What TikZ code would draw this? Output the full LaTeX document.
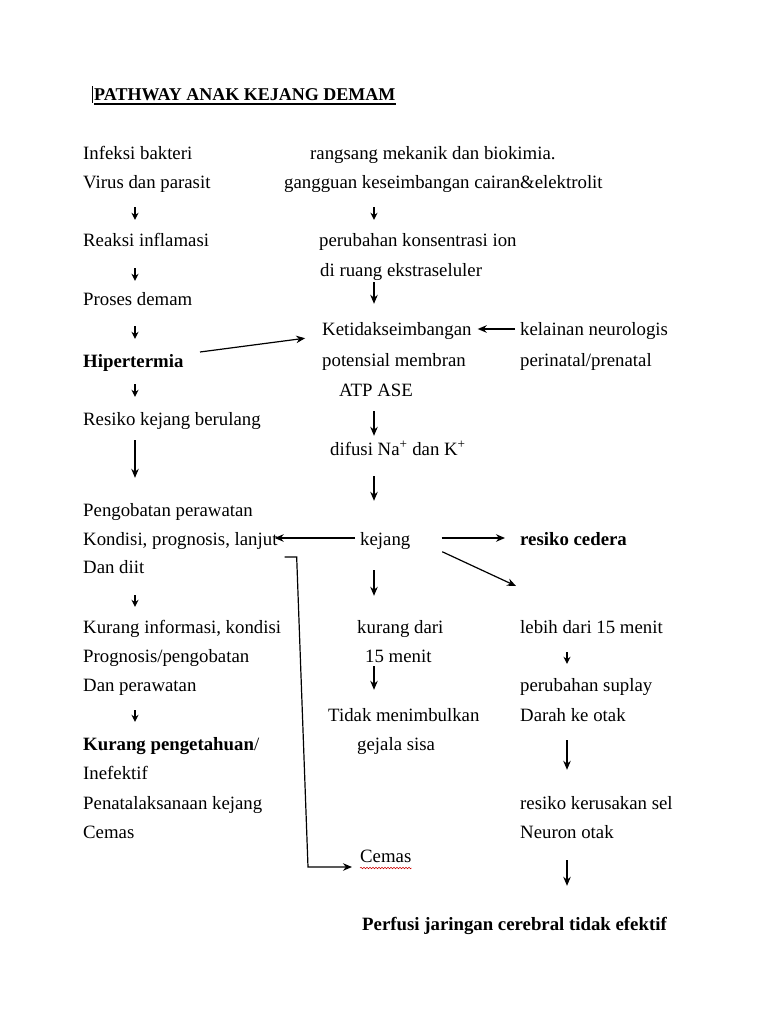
\documentclass[tikz,border=0pt]{standalone}
\usepackage{fontspec}
\setmainfont{Liberation Serif}
\usetikzlibrary{arrows.meta,decorations.pathmorphing}
\begin{document}
\begin{tikzpicture}[x=1pt,y=-1pt,
  t/.style={anchor=base west,inner sep=0pt,text height=12pt,text depth=4pt,font=\fontsize{18.8}{21}\selectfont},
  tb/.style={t,font=\fontsize{18.8}{21}\selectfont\bfseries},
  arr/.style={-{Stealth[length=9pt,width=7.5pt]},line width=1.2pt},
  sarr/.style={arr,-{Stealth[length=7pt,width=7pt]}}]
\useasboundingbox (0,0) rectangle (768,1024);
\fill[white] (0,0) rectangle (768,1024);
% title
\node[tb,font=\fontsize{18}{20}\selectfont\bfseries] (title) at (94,101) {PATHWAY ANAK KEJANG DEMAM};
\draw[line width=1.3pt] ([yshift=-3pt]title.base west) -- ([yshift=-3pt]title.base east);
\draw[line width=0.6pt] ([xshift=-1.5pt,yshift=-2pt]title.base west) -- ([xshift=-1.5pt,yshift=15pt]title.base west);
% left column
\node[t] (inf) at (83,160) {Infeksi bakteri};
\node[t] (virus) at (83,189) {Virus dan parasit};
\node[t] (reaksi) at (83,247) {Reaksi inflamasi};
\node[t] (proses) at (83,305) {Proses demam};
\node[tb] (hiper) at (83,367) {Hipertermia};
\node[t] (resiko) at (83,425) {Resiko kejang berulang};
\node[t] (pengob) at (83,516) {Pengobatan perawatan};
\node[t] (kondisi) at (83,545) {Kondisi, prognosis, lanjut};
\node[t] (diit) at (83,573) {Dan diit};
\node[t] (kinfo) at (83,633) {Kurang informasi, kondisi};
\node[t] (prog) at (83,662) {Prognosis/pengobatan};
\node[t] (danper) at (83,691) {Dan perawatan};
\node[t] (kpeng) at (83,750) {\textbf{Kurang pengetahuan}/};
\node[t] (inef) at (83,779) {Inefektif};
\node[t] (penat) at (83,809) {Penatalaksanaan kejang};
\node[t] (cemasA) at (83,838) {Cemas};
% middle column
\node[t] (rangsang) at (310,160) {rangsang mekanik dan biokimia.};
\node[t] (gangguan) at (284,189) {gangguan keseimbangan cairan\&elektrolit};
\node[t] (perubahan) at (319,247) {perubahan konsentrasi ion};
\node[t] (diruang) at (320,276) {di ruang ekstraseluler};
\node[t] (ketidak) at (322,335) {Ketidakseimbangan};
\node[t] (potensial) at (322,366) {potensial membran};
\node[t,anchor=base] (atp) at (376,396) {ATP ASE};
\node[t] (difusi) at (330,455) {difusi Na\textsuperscript{+} dan K\textsuperscript{+}};
\node[t] (kejang) at (360,545) {kejang};
\node[t] (kdari) at (357,633) {kurang dari};
\node[t] (m15) at (365,662) {15 menit};
\node[t] (tidak) at (328,721) {Tidak menimbulkan};
\node[t] (gejala) at (357,750) {gejala sisa};
\node[t] (cemasB) at (360,862) {Cemas};
\node[tb] (perfusi) at (362,930) {Perfusi jaringan cerebral tidak efektif};
% right column
\node[t] (kelainan) at (520,335) {kelainan neurologis};
\node[t] (perinatal) at (520,366) {perinatal/prenatal};
\node[tb] (cedera) at (520,545) {resiko cedera};
\node[t] (lebih) at (520,633) {lebih dari 15 menit};
\node[t] (suplay) at (520,691) {perubahan suplay};
\node[t] (darah) at (520,721) {Darah ke otak};
\node[t] (rkerus) at (520,809) {resiko kerusakan sel};
\node[t] (neuron) at (520,838) {Neuron otak};
% spell-check underline
\draw[red!80!black,line width=0.5pt,decorate,decoration={snake,amplitude=0.8pt,segment length=3pt}]
  ([yshift=-6pt]cemasB.base west) -- ([yshift=-6pt]cemasB.base east);
% column x coordinates
\coordinate (LX) at (135,0);
\coordinate (MX) at (374,0);
\coordinate (RX) at (567,0);
% left arrows
\draw[sarr,shorten <=14pt,shorten >=15pt] (virus.south -| LX) -- (reaksi.north -| LX);
\draw[sarr,shorten <=17pt,shorten >=12pt] (reaksi.south -| LX) -- (proses.north -| LX);
\draw[sarr,shorten <=17pt,shorten >=16pt] (proses.south -| LX) -- (hiper.north -| LX);
\draw[sarr,shorten <=13pt,shorten >=16pt] (hiper.south -| LX) -- (resiko.north -| LX);
\draw[arr,shorten <=11pt,shorten >=26pt] (resiko.south -| LX) -- (pengob.north -| LX);
\draw[sarr,shorten <=18pt,shorten >=14pt] (diit.south -| LX) -- (kinfo.north -| LX);
\draw[sarr,shorten <=15pt,shorten >=16pt] (danper.south -| LX) -- (kpeng.north -| LX);
% middle arrows
\draw[sarr,shorten <=14pt,shorten >=15pt] (gangguan.south -| MX) -- (perubahan.north -| MX);
\draw[arr,shorten <=2pt,shorten >=19pt] (diruang.south -| MX) -- (ketidak.north -| MX);
\draw[arr,shorten <=11pt,shorten >=7pt] (atp.south -| MX) -- (difusi.north -| MX);
\draw[arr,shorten <=17pt,shorten >=32pt] (difusi.south -| MX) -- (kejang.north -| MX);
\draw[arr,shorten <=21pt,shorten >=25pt] (kejang.south -| MX) -- (kdari.north -| MX);
\draw[arr,shorten >=19pt] (m15.south -| MX) -- (tidak.north -| MX);
% right arrows
\draw[sarr,shorten <=15pt,shorten >=15pt] (lebih.south -| RX) -- (suplay.north -| RX);
\draw[arr,shorten <=15pt,shorten >=27pt] (darah.south -| RX) -- (rkerus.north -| RX);
\draw[arr,shorten <=18pt,shorten >=32pt] (neuron.south -| RX) -- (perfusi.north -| RX);
% horizontal and diagonal arrows
\draw[arr,shorten <=5pt,shorten >=-3pt] ([yshift=3pt]kejang.west) -- ([yshift=3pt]kejang.west -| kondisi.east);
\draw[arr,shorten <=31pt,shorten >=15pt] ([yshift=3pt]kejang.east) -- ([yshift=3pt]kejang.east -| cedera.west);
\coordinate (diagEnd) at (516,586);
\draw[arr,shorten <=35pt] ([yshift=4pt]kejang.east) -- (diagEnd);
\draw[arr,shorten <=5pt,shorten >=6pt] ([yshift=2pt]kelainan.west) -- ([yshift=2pt]kelainan.west -| ketidak.east);
\coordinate (hipStart) at (200,352);
\draw[arr,shorten >=17pt] (hipStart) -- ([yshift=-5pt]ketidak.west);
% kondisi -> cemas connector
\draw[arr,shorten >=8pt] ([xshift=7pt,yshift=-12pt]kondisi.base east) -- ++(12,0) -- ([xshift=-52pt,yshift=-5pt]cemasB.base west) -- ([yshift=-5pt]cemasB.base west);
\end{tikzpicture}
\end{document}
